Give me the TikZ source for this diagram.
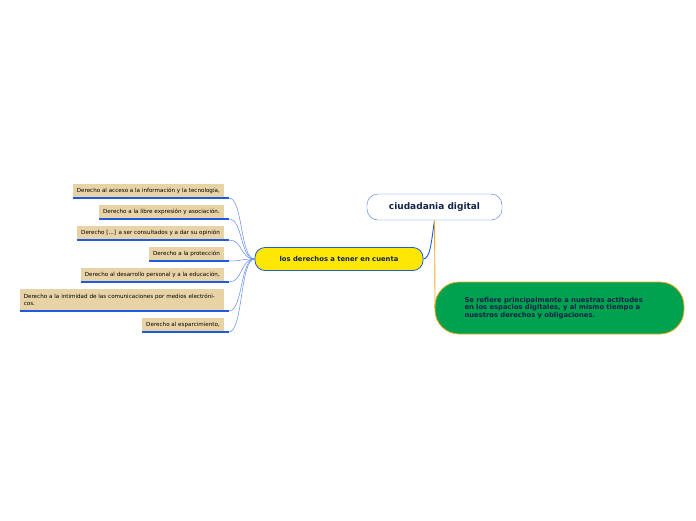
\documentclass[tikz,border=0pt]{standalone}
\usepackage{fontspec}
\setmainfont{DejaVu Sans}
\begin{document}
\begin{tikzpicture}[x=1pt,y=-1pt,
  leaf/.style={fill=leafc, anchor=south east, inner xsep=4pt, inner ysep=0pt, minimum height=14pt, font=\fontsize{5.6}{6.2}\selectfont, align=left},
  uline/.style={draw=lineblue, line width=1.1pt},
  conn/.style={draw=lineblue!70!white, line width=0.5pt}]
\definecolor{leafc}{HTML}{E8D3A6}
\definecolor{lineblue}{HTML}{1E5BE0}
\definecolor{navy}{HTML}{13234A}
\definecolor{gr}{HTML}{00A14F}
\definecolor{orng}{HTML}{F5A623}
\useasboundingbox (0,0) rectangle (696,520);
% central
\node[draw=lineblue!80!white, rounded corners=11pt, fill=white, minimum width=135pt, minimum height=26pt, font=\bfseries\fontsize{9}{11}\selectfont, text=navy] (c) at (434.5,207) {ciudadania digital};
% yellow
\node[draw=lineblue, line width=0.8pt, rounded corners=10pt, fill=yellow!90!orange, minimum width=168pt, minimum height=23pt, font=\bfseries\fontsize{6.8}{8}\selectfont, text=navy] (y) at (339,259) {los derechos a tener en cuenta};
% green
\node[draw=orng, line width=0.8pt, rounded corners=24pt, fill=gr, minimum width=249pt, minimum height=52pt, text width=190pt, align=left, font=\bfseries\fontsize{6.8}{7.6}\selectfont, text=navy, inner xsep=22pt] (g) at (559.5,308) {Se refiere principalmente a nuestras actitudes en los espacios digitales, y al mismo tiempo a nuestros derechos y obligaciones.};
\draw[lineblue, line width=0.9pt] (c.south) .. controls (431,245) and (430,258) .. (y.east);
\draw[orng, line width=0.9pt] (c.south) -- (435,295) .. controls (435,305) .. (g.west);
% leaves
\foreach \n/\b/\t in {
  l1/198/{Derecho al acceso a la información y la tecnología,},
  l2/219/{Derecho a la libre expresión y asociación.},
  l3/240/{Derecho [...] a ser consultados y a dar su opinión},
  l4/261/{Derecho a la protección},
  l5/282/{Derecho al desarrollo personal y a la educación,},
  l7/332/{Derecho al esparcimiento,}}{
  \node[leaf] (\n) at (224,\b) {\t};
  \coordinate (\n e) at (229,\b);
  \draw[uline] (\n.south west) -- (\n e);
  \draw[conn] (\n e) .. controls (243,\b) and (240,259) .. (y.west);
}
\node[leaf, minimum height=22pt, text width=196pt] (l6) at (224,311) {Derecho a la intimidad de las comunicaciones por medios electrónicos.};
\coordinate (l6e) at (229,311);
\draw[uline] (l6.south west) -- (l6e);
\draw[conn] (l6e) .. controls (243,311) and (240,259) .. (y.west);
\end{tikzpicture}
\end{document}
